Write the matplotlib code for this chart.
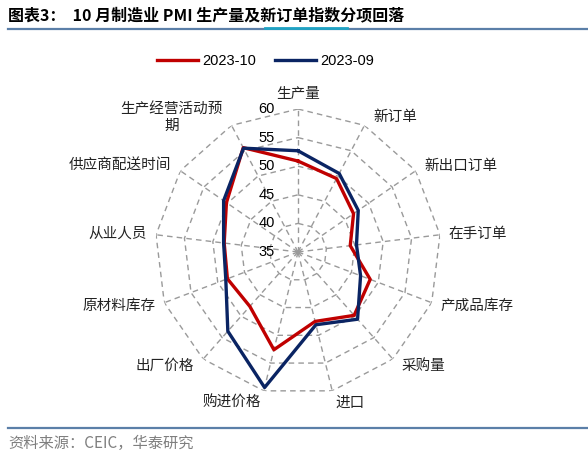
import numpy as np
import matplotlib
matplotlib.use('Agg')
import matplotlib.pyplot as plt
import matplotlib.transforms as mtransforms
from matplotlib.lines import Line2D

plt.rcParams['font.family'] = ['Liberation Sans', 'Noto Sans CJK SC', 'DejaVu Sans']

categories = ['生产量', '新订单', '新出口订单', '在手订单', '产成品库存', '采购量', '进口',
              '购进价格', '出厂价格', '原材料库存', '从业人员', '供应商配送时间', '生产经营活动预\n期']
oct_2023 = [50.9, 49.5, 46.8, 44.2, 48.5, 49.8, 47.5, 52.6, 47.7, 48.2, 48.0, 50.2, 55.6]
sep_2023 = [52.7, 50.5, 47.8, 45.3, 46.7, 50.7, 48.1, 59.4, 53.5, 48.5, 48.1, 50.8, 55.5]
rings = [40, 45, 50, 55, 60]
ring_labels = [35, 40, 45, 50, 55, 60]

red = '#C00000'
navy = '#0A2463'
W, H = 588, 474

fig = plt.figure(figsize=(W / 100, H / 100), dpi=100)

# polar axes: centre (298, 252) px, radius 143 px
cx, cy, R = 298, 252, 143
ax = fig.add_axes([(cx - R) / W, (H - cy - R) / H, 2 * R / W, 2 * R / H], projection='polar')
ax.set_theta_offset(np.pi / 2)
ax.set_theta_direction(-1)
ax.set_ylim(35, 60)
ax.set_xticks([])
ax.set_yticks([])
ax.grid(False)
ax.spines['polar'].set_visible(False)
ax.patch.set_alpha(0)

n = len(categories)
ang = np.arange(n) * 2 * np.pi / n
ang_c = np.append(ang, ang[0])

for r in rings:
    ax.plot(ang_c, [r] * (n + 1), ls=(0, (4, 3)), color='#9A9A9A', lw=1.0, zorder=1)
for a in ang:
    ax.plot([a, a], [35, 60], ls=(0, (4, 3)), color='#9A9A9A', lw=1.0, zorder=1)

ax.plot(ang_c, oct_2023 + oct_2023[:1], color=red, lw=2.4, zorder=3, clip_on=False)
ax.plot(ang_c, sep_2023 + sep_2023[:1], color=navy, lw=2.4, zorder=4, clip_on=False)

# radial value labels left of the top spoke
tr = mtransforms.offset_copy(ax.transData, fig=fig, x=-23, y=0, units='dots')
for v in ring_labels:
    ax.text(0, v, str(v), transform=tr, ha='right', va='center', fontsize=10.5, color='black')

# category labels, placed just outside the end of each spoke
for a, lab in zip(ang, categories):
    s, c = np.sin(a), np.cos(a)
    if abs(s) < 0.1:
        ha, va, dx, dy = 'center', 'bottom', 0, 8
    elif c < -0.9:
        ha, va, dx, dy = ('left' if s > 0 else 'right'), 'center', 3 * np.sign(s), -12
    else:
        ha, va, dx, dy = ('left' if s > 0 else 'right'), 'center', 9 * np.sign(s), 9 * c
    t = mtransforms.offset_copy(ax.transData, fig=fig, x=dx, y=dy, units='dots')
    ax.text(a, 60, lab, transform=t, ha=ha, va=va, fontsize=10.5,
            family=['Noto Sans CJK SC', 'DejaVu Sans'], color='#222222',
            clip_on=False, linespacing=1.3, multialignment='center')

# title and decorations
fig.text(8 / W, 1 - 15 / H, '图表3：  10 月制造业 PMI 生产量及新订单指数分项回落',
         fontsize=11.5, fontweight='bold', ha='left', va='center',
         family=['Noto Sans CJK SC', 'DejaVu Sans'])
fig.add_artist(Line2D([8 / W, 1.0], [1 - 29 / H, 1 - 29 / H], color='#5B7FA8', lw=1.6))
fig.add_artist(Line2D([265 / W, 347 / W], [1 - 28 / H, 1 - 28 / H], color='#1FA3C4', lw=2.0))
fig.add_artist(Line2D([8 / W, 1.0], [1 - 428 / H, 1 - 428 / H], color='#5B7FA8', lw=1.6))
fig.text(8 / W, 1 - 443 / H, '资料来源：CEIC，华泰研究', fontsize=11, color='#7F7F7F',
         ha='left', va='center', family=['Noto Sans CJK SC', 'DejaVu Sans'])

handles = [Line2D([], [], color=red, lw=2.4), Line2D([], [], color=navy, lw=2.4)]
fig.legend(handles, ['2023-10', '2023-09'], loc='center', bbox_to_anchor=(266 / W, 1 - 61 / H),
           ncol=2, frameon=False, fontsize=10.5, handlelength=2.8, columnspacing=1.3,
           handletextpad=0.3)

fig.savefig('out.png', dpi=100)
